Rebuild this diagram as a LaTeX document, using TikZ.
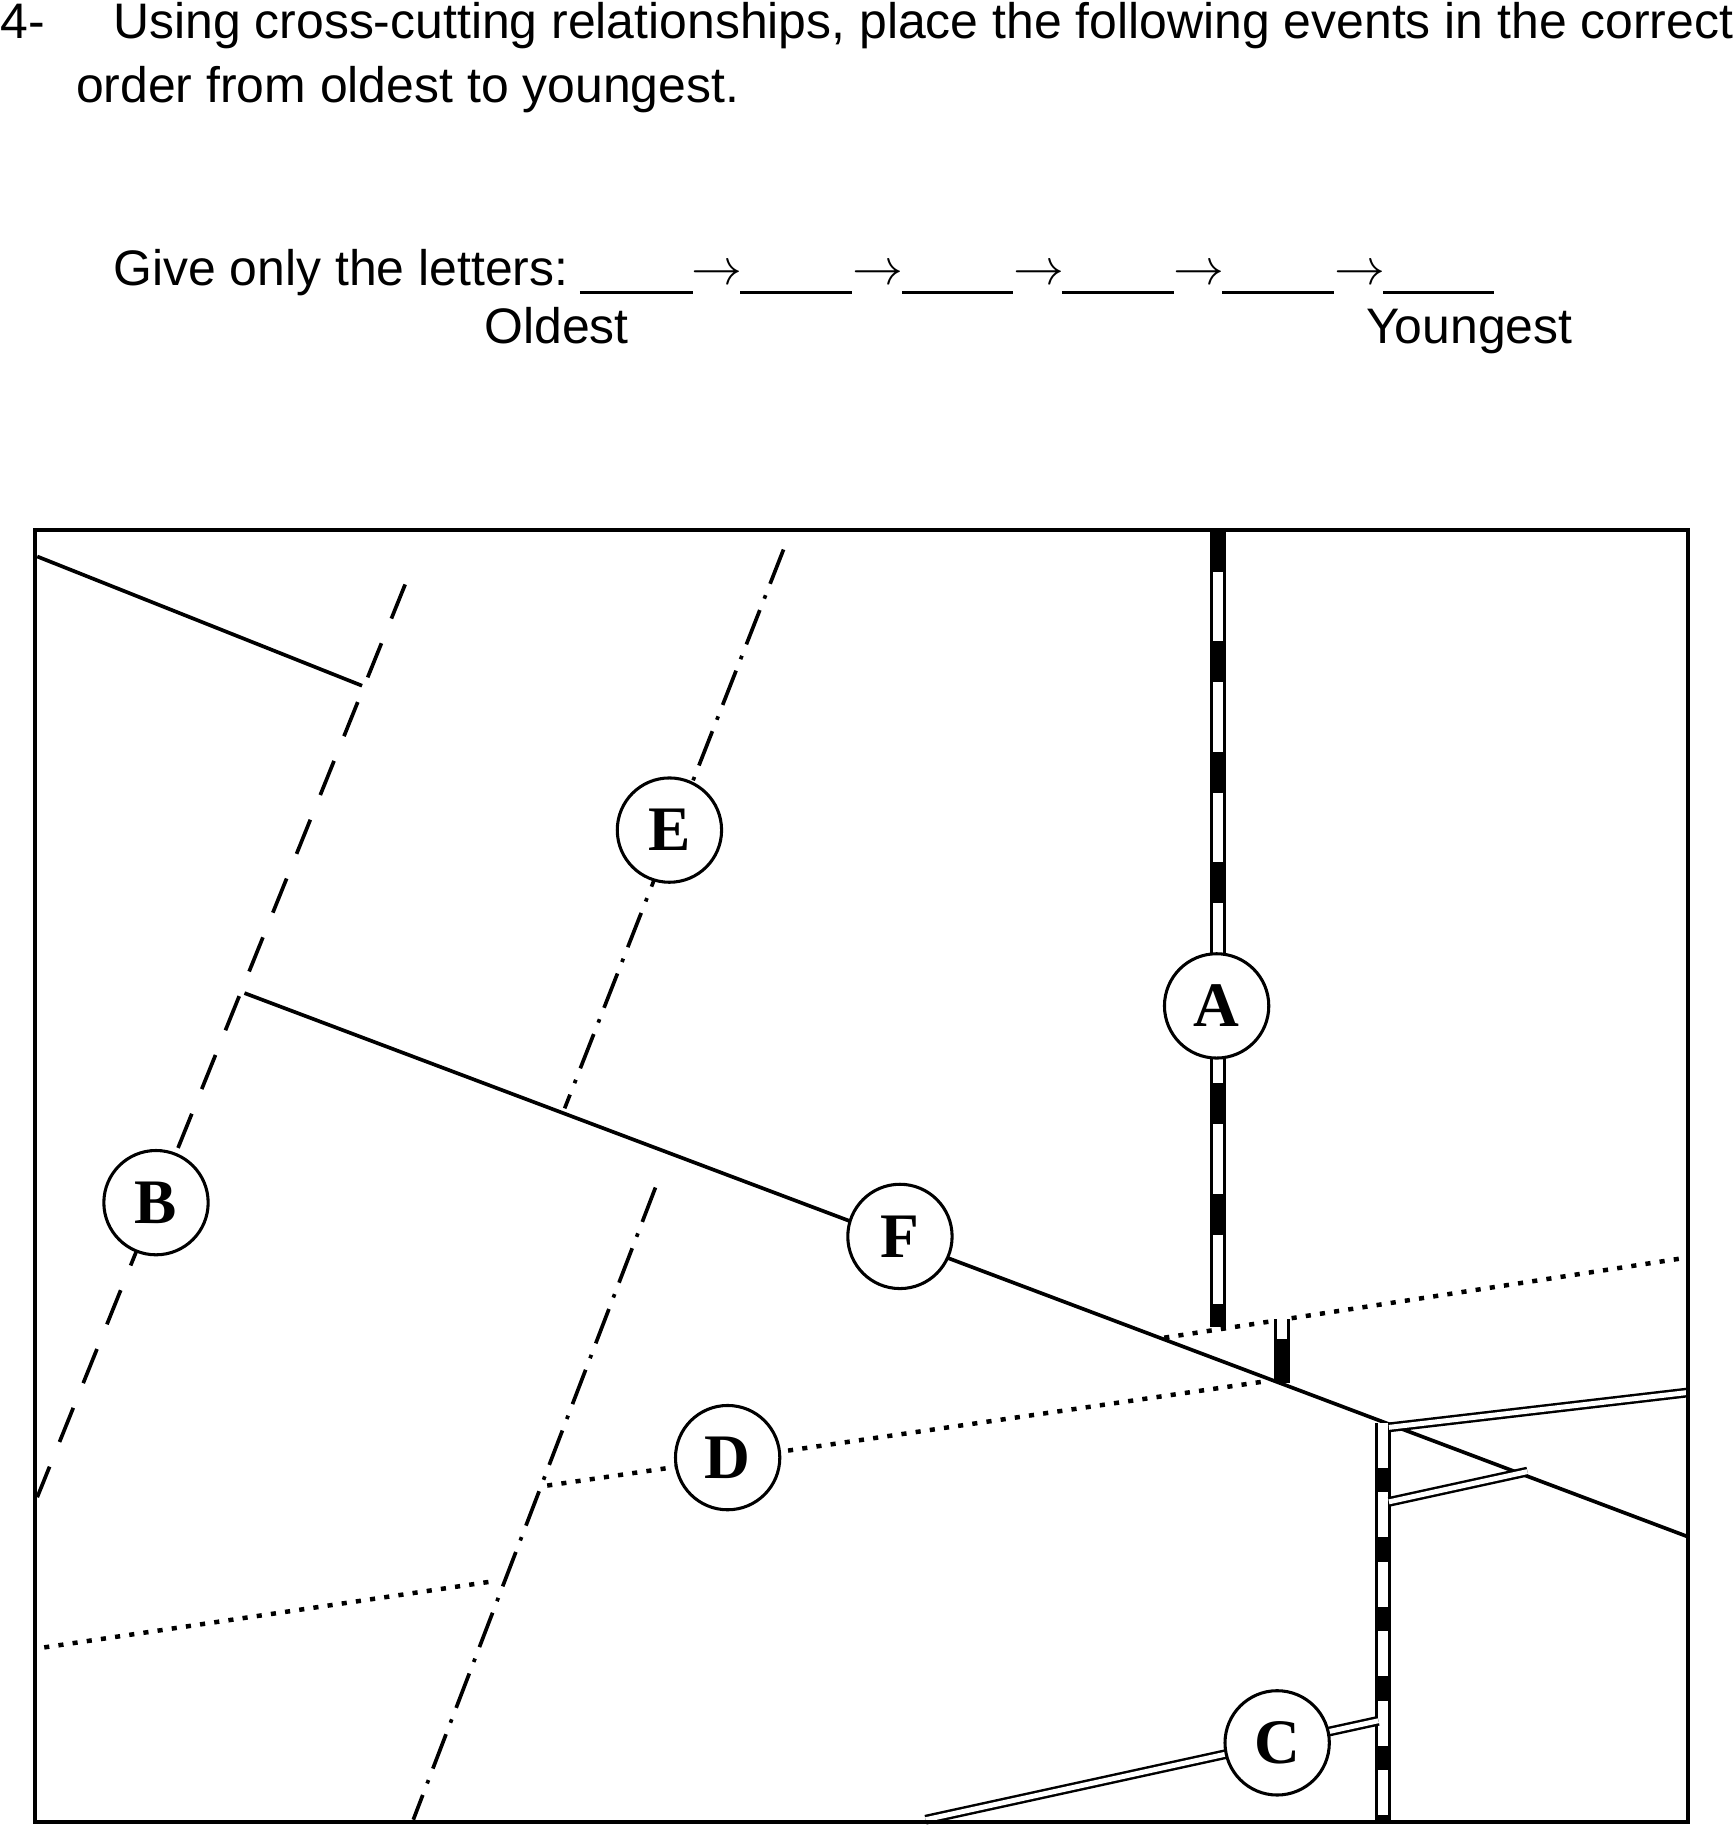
\documentclass[tikz,border=0pt]{standalone}
\usepackage{fontspec}
\setmainfont{Liberation Sans}
\newfontfamily\lserif{Liberation Serif}
\begin{document}
\begin{tikzpicture}[x=0.02cm,y=-0.02cm,
  txt/.style={font=\fontsize{24.4}{28}\selectfont,inner sep=0,anchor=base west},
  flt/.style={line width=1.8pt},
  bdash/.style={flt,dash pattern=on 18pt off 13pt},
  dd/.style={flt,dash pattern=on 18pt off 6pt on 1.8pt off 6pt},
  dot/.style={line width=2.2pt,dash pattern=on 2.5pt off 4.5pt},
  lab/.style={circle,draw,line width=1.5pt,fill=white,minimum size=51pt,inner sep=0,font=\lserif\bfseries\fontsize{31}{32}\selectfont},
  dbl/.style={double,double distance=2.4pt,line width=1.2pt}]
\useasboundingbox (0,0) rectangle (1490,1571);
% text
\node[txt] (n4) at (0,33) {4-};
\node[txt] (l1) at (97,33) {Using cross-cutting relationships, place the following events in the correct};
\node[txt] (l2) at (65,88) {order from oldest to youngest.};
\node[txt] (l3) at (97,245) {Give only the letters:};
\foreach \a/\b [count=\i] in {498/595,636/732,775/870,912/1008,1050/1146,1188/1283}{
  \coordinate (u\i a) at (\a,251); \coordinate (u\i b) at (\b,251);
  \draw[line width=1.5pt] (u\i a) -- (u\i b);}
\foreach \x [count=\i] in {616,754,892,1030,1168}{
  \node[inner sep=0,font=\fontsize{24}{28}\selectfont] (ar\i) at (\x,236) {$\rightarrow$};}
\node[txt,anchor=base] (old) at (478,295) {Oldest};
\node[txt,anchor=base] (yng) at (1262,295) {Youngest};
% coordinates
\coordinate (s1a) at (32,478); \coordinate (s1b) at (311,589);
\coordinate (Bt) at (348,502); \coordinate (Bb) at (32,1286);
\coordinate (Fa) at (210,853); \coordinate (Fb) at (1450,1320);
\coordinate (E1) at (673,472); \coordinate (E2) at (485,952);
\coordinate (E3) at (563,1020); \coordinate (E4) at (355,1563);
\coordinate (Dl1) at (38,1415); \coordinate (Dl2) at (425,1358);
\coordinate (Dm1) at (470,1276); \coordinate (Dm2) at (1090,1186);
\coordinate (Du1) at (1000,1149); \coordinate (Du2) at (1450,1080);
\coordinate (At) at (1046,456); \coordinate (Ab) at (1046,1140);
\coordinate (St) at (1101,1133); \coordinate (Sb) at (1101,1188);
\coordinate (Ct) at (1188,1222); \coordinate (Cb) at (1188,1564);
\coordinate (P1) at (1193,1226); \coordinate (P2) at (1450,1196);
\coordinate (Q1) at (1193,1290); \coordinate (Q2) at (1312,1264);
\coordinate (R1) at (795,1563); \coordinate (R2) at (1184,1478);
% lines
\draw[flt] (s1a) -- (s1b);
\draw[bdash] (Bt) -- (Bb);
\draw[flt] (Fa) -- (Fb);
\draw[dd] (E1) -- (E2);
\draw[dd] (E3) -- (E4);
\draw[dot] (Dl1) -- (Dl2);
\draw[dot] (Dm1) -- (Dm2);
\draw[dot] (Du1) -- (Du2);
\draw[line width=8pt] (At) -- (Ab);
\draw[line width=4.6pt,white,dash pattern=on 0pt off 20pt on 34pt off 0pt] (At) -- (Ab);
\draw[line width=8pt] (St) -- (Sb);
\draw[line width=4.6pt,white] (1101,1131) -- (1101,1150);
\draw[line width=8pt] (Ct) -- (Cb);
\draw[line width=4.6pt,white,dash pattern=on 22pt off 12pt] (Ct) -- (Cb);
\draw[dbl] (P1) -- (P2);
\draw[dbl] (Q1) -- (Q2);
\draw[dbl] (R1) -- (R2);
% labels
\node[lab] (E) at (575,713) {E};
\node[lab] (A) at (1045,864) {A};
\node[lab] (B) at (134,1033) {B};
\node[lab] (F) at (773,1062) {F};
\node[lab] (D) at (625,1252) {D};
\node[lab] (C) at (1097,1497) {C};
% frame
\draw[line width=2pt] (30,455) rectangle (1450,1565);
\end{tikzpicture}
\end{document}
